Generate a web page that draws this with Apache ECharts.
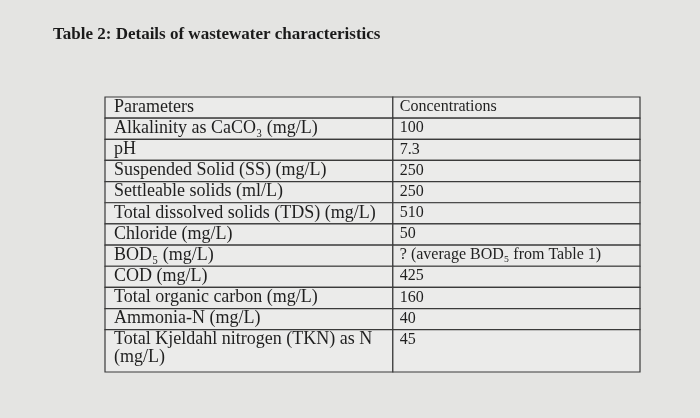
<!DOCTYPE html>
<html><head><meta charset="utf-8">
<script src="https://cdn.jsdelivr.net/npm/echarts@6/dist/echarts.min.js"></script>
<style>html,body{margin:0;padding:0;background:#e4e4e2}#c{width:700px;height:418px}</style>
</head><body><div id="c"></div>
<script>
const title = "Table 2: Details of wastewater characteristics";
const parameters = ["Parameters","Alkalinity as CaCO₃ (mg/L)","pH","Suspended Solid (SS) (mg/L)","Settleable solids (ml/L)","Total dissolved solids (TDS) (mg/L)","Chloride (mg/L)","BOD₅ (mg/L)","COD (mg/L)","Total organic carbon (mg/L)","Ammonia-N (mg/L)","Total Kjeldahl nitrogen (TKN) as N\n(mg/L)"];
const concentrations = ["Concentrations","100","7.3","250","250","510","50","? (average BOD₅ from Table 1)","425","160","40","45"];
const rowSpans = [1,1,1,1,1,1,1,1,1,1,1,2];

const colEdges = [0, 0.538, 1];
const rowIndex = []; let acc = 0;
rowSpans.forEach(s => { rowIndex.push(acc); acc += s; });
const totalRows = acc;
const cats = Array.from({length: totalRows}, (_, i) => String(i));
const data = [];
parameters.forEach((p, i) => {
  data.push({value: [0, rowIndex[i], rowSpans[i]], text: p});
  data.push({value: [1, rowIndex[i], rowSpans[i]], text: concentrations[i]});
});

const chart = echarts.init(document.getElementById('c'));
chart.setOption({
  backgroundColor: '#e4e4e2',
  animation: false,
  title: {text: title, left: 48, top: 21, textStyle: {fontFamily: 'Liberation Serif', fontSize: 17, fontWeight: 'bold', color: '#1a1a1a'}},
  grid: {left: 105, right: 60, top: 97, bottom: 46},
  xAxis: {type: 'value', min: 0, max: 1, show: false},
  yAxis: {type: 'category', data: cats, inverse: true, show: false},
  series: [{
    type: 'custom',
    data: data,
    renderItem: function (params, api) {
      const col = api.value(0), row = api.value(1), span = api.value(2);
      const bh = api.size([0, 1])[1];
      const p0 = api.coord([colEdges[col], row]);
      const p1 = api.coord([colEdges[col + 1], row]);
      const y = p0[1] - bh / 2;
      const h = bh * span;
      const txt = data[params.dataIndex].text;
      return {type: 'group', children: [
        {type: 'rect', shape: {x: p0[0], y: y, width: p1[0] - p0[0], height: h},
         style: {fill: '#ebebea', stroke: '#3a3a3a', lineWidth: 1.2}},
        {type: 'text', style: {x: p0[0] + (col === 0 ? 9 : 7), y: y + 1, text: txt, fill: '#1f1f1f',
          font: (col === 0 ? '18px' : '16px') + ' "Liberation Serif"', lineHeight: 18, verticalAlign: 'top', align: 'left'}}
      ]};
    }
  }]
});
</script></body></html>
